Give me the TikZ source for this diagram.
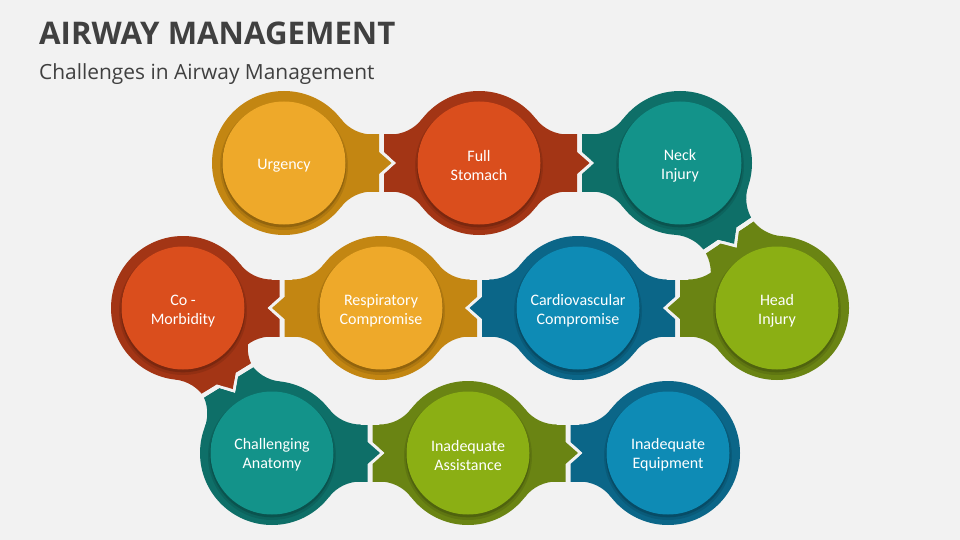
\documentclass[tikz,border=0pt]{standalone}
\usepackage{fontspec}
\setmainfont{Carlito}
\newfontfamily\titlefont{Open Sans}
\definecolor{bg}{HTML}{F2F2F2}
\definecolor{titlegray}{HTML}{404040}
\definecolor{goldO}{HTML}{C38612}
\definecolor{goldI}{HTML}{EEA92A}
\definecolor{redO}{HTML}{A33515}
\definecolor{redI}{HTML}{DA4E1D}
\definecolor{tealO}{HTML}{0E6F68}
\definecolor{tealI}{HTML}{13938A}
\definecolor{greenO}{HTML}{6A8413}
\definecolor{greenI}{HTML}{8BAF14}
\definecolor{blueO}{HTML}{0B6688}
\definecolor{blueI}{HTML}{0E8BB5}
\tikzset{
  neckpic/.pic={
    \fill (0,-28.5) rectangle (130,28.5);
    \fill (0,0) -- (56.96,44.04) arc[start angle=217.7,end angle=270,radius=40] -- (88.61,0) -- cycle;
    \fill (0,0) -- (56.96,-44.04) arc[start angle=142.3,end angle=90,radius=40] -- (88.61,0) -- cycle;
  },
  label/.style={text=white, align=center, font=\fontsize{16}{19}\selectfont},
}
% clip: keep the side of the unit, with a tab (giver) or a notch (receiver)
\newcommand\mytabclip[4]{%
  \clip[shift={(#1,#2)},rotate=#3] (-300,-300) -- ({#4-2.5},-300) -- ({#4-2.5},-11) -- ({#4+10},0) -- ({#4-2.5},11) -- ({#4-2.5},300) -- (-300,300) -- cycle;}
\newcommand\mynotchclip[4]{%
  \clip[shift={(#1,#2)},rotate=#3] (-300,-300) -- ({#4-2.5},-300) -- ({#4-2.5},-11) -- ({#4-15},0) -- ({#4-2.5},11) -- ({#4-2.5},300) -- (-300,300) -- cycle;}
\newcommand\myouter[2]{\fill (#1,#2) circle[radius=72];}
\newcommand\myinner[3]{%
  \fill[black,opacity=0.10] (#1,{#2+3}) circle[radius=64];
  \fill[black,opacity=0.16] (#1,{#2+2}) circle[radius=62.3];
  \fill[#3] (#1,#2) circle[radius=61.5];}
\begin{document}
\begin{tikzpicture}[x=1pt,y=1pt,yscale=-1]
\fill[bg] (0,0) rectangle (960,540);
\useasboundingbox (0,0) rectangle (960,540);

\node[anchor=base west, inner sep=0pt, text=titlegray, font=\titlefont\bfseries\fontsize{31.2}{36}\selectfont] (title) at (39,45) {AIRWAY MANAGEMENT};
\node[anchor=base west, inner sep=0pt, text=titlegray, font=\titlefont\fontsize{20.9}{24}\selectfont] (subtitle) at (39,80) {Challenges in Airway Management};

% U1 Urgency
\begin{scope}[color=goldO]
 \mytabclip{284}{163}{0}{97.5}
 \myouter{284}{163}
 \pic[rotate=0] at (284,163) {neckpic};
\end{scope}
% U2 Full Stomach
\begin{scope}[color=redO]
 \mynotchclip{479}{163}{180}{97.5}
 \mytabclip{479}{163}{0}{100.5}
 \myouter{479}{163}
 \pic[rotate=180] at (479,163) {neckpic};
 \pic[rotate=0] at (479,163) {neckpic};
\end{scope}
% U3 Neck Injury
\begin{scope}[color=tealO]
 \mynotchclip{680}{163}{180}{100.5}
 \mytabclip{680}{163}{56.2}{87.2}
 \myouter{680}{163}
 \pic[rotate=180] at (680,163) {neckpic};
 \pic[rotate=-56.2] at (680,163) {neckpic};
\end{scope}
% U4 Head Injury
\begin{scope}[color=greenO]
 \mynotchclip{777}{308}{236.2}{87.2}
 \mytabclip{777}{308}{180}{99.5}
 \myouter{777}{308}
 \pic[rotate=123.8] at (777,308) {neckpic};
 \pic[rotate=180] at (777,308) {neckpic};
\end{scope}
% U5 Cardiovascular
\begin{scope}[color=blueO]
 \mynotchclip{578}{308}{0}{99.5}
 \mytabclip{578}{308}{180}{98.5}
 \myouter{578}{308}
 \pic[rotate=0] at (578,308) {neckpic};
 \pic[rotate=180] at (578,308) {neckpic};
\end{scope}
% U6 Respiratory
\begin{scope}[color=goldO]
 \mynotchclip{381}{308}{0}{98.5}
 \mytabclip{381}{308}{180}{99}
 \myouter{381}{308}
 \pic[rotate=0] at (381,308) {neckpic};
 \pic[rotate=180] at (381,308) {neckpic};
\end{scope}
% U7 Co-Morbidity
\begin{scope}[color=redO]
 \mynotchclip{183}{308}{0}{99}
 \mytabclip{183}{308}{58.45}{85.1}
 \myouter{183}{308}
 \pic[rotate=0] at (183,308) {neckpic};
 \pic[rotate=-58.45] at (183,308) {neckpic};
\end{scope}
% U8 Challenging Anatomy
\begin{scope}[color=tealO]
 \mynotchclip{272}{453}{238.45}{85.1}
 \mytabclip{272}{453}{0}{98}
 \myouter{272}{453}
 \pic[rotate=121.55] at (272,453) {neckpic};
 \pic[rotate=0] at (272,453) {neckpic};
\end{scope}
% U9 Inadequate Assistance
\begin{scope}[color=greenO]
 \mynotchclip{468}{453}{180}{98}
 \mytabclip{468}{453}{0}{100}
 \myouter{468}{453}
 \pic[rotate=180] at (468,453) {neckpic};
 \pic[rotate=0] at (468,453) {neckpic};
\end{scope}
% U10 Inadequate Equipment
\begin{scope}[color=blueO]
 \mynotchclip{668}{453}{180}{100}
 \myouter{668}{453}
 \pic[rotate=180] at (668,453) {neckpic};
\end{scope}

% inner circles
\myinner{284}{163}{goldI}
\myinner{479}{163}{redI}
\myinner{680}{163}{tealI}
\myinner{777}{308}{greenI}
\myinner{578}{308}{blueI}
\myinner{381}{308}{goldI}
\myinner{183}{308}{redI}
\myinner{272}{453}{tealI}
\myinner{468}{453}{greenI}
\myinner{668}{453}{blueI}

\node[label] (t1) at (284,165.5) {Urgency};
\node[label] (t2) at (479,166) {Full\\Stomach};
\node[label] (t3) at (680,166) {Neck\\Injury};
\node[label] (t4) at (777,311) {Head\\Injury};
\node[label] (t5) at (578,311) {Cardiovascular\\Compromise};
\node[label] (t6) at (381,311) {Respiratory\\Compromise};
\node[label] (t7) at (183,311) {Co -\\Morbidity};
\node[label] (t8) at (272,455) {Challenging\\Anatomy};
\node[label] (t9) at (468,455) {Inadequate\\Assistance};
\node[label] (t10) at (668,455) {Inadequate\\Equipment};
\end{tikzpicture}
\end{document}
